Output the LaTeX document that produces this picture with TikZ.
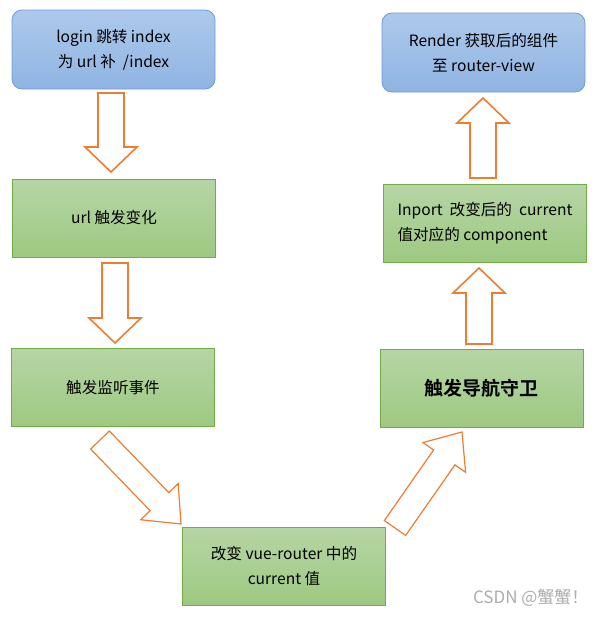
\documentclass[tikz,border=0pt]{standalone}
\usepackage{fontspec}
\setmainfont{Noto Sans CJK SC}[BoldFont={Noto Sans CJK SC Bold}]
\usetikzlibrary{calc}

\definecolor{azulTopo}{RGB}{174,201,235}
\definecolor{azulBase}{RGB}{143,180,227}
\definecolor{azulBorda}{RGB}{109,155,212}
\definecolor{verdeTopo}{RGB}{182,213,165}
\definecolor{verdeBase}{RGB}{158,201,129}
\definecolor{verdeBorda}{RGB}{112,173,71}
\definecolor{laranja}{RGB}{237,125,49}

% hollow block arrow from #2 to #3, head length #4
\newcommand{\blockarrow}[4][]{%
  \coordinate (hb) at ($(#3)!#4!(#2)$);
  \draw[flecha,#1] ($(#2)!13pt!90:(#3)$) -- ($(hb)!13pt!-90:(#2)$) -- ($(hb)!26pt!-90:(#2)$)
    -- (#3) -- ($(hb)!26pt!90:(#2)$) -- ($(hb)!13pt!90:(#2)$) -- ($(#2)!13pt!-90:(#3)$) -- cycle;}

\begin{document}
\begin{tikzpicture}[
        x=1pt, y=-1pt,
        font=\fontsize{15.6}{25}\selectfont,
        inicio/.style={rectangle, rounded corners=10pt, draw=azulBorda, line width=0.8pt,
            top color=azulTopo, bottom color=azulBase,
            minimum width=203pt, minimum height=79pt, align=center, inner sep=2pt},
        etapa/.style={rectangle, draw=verdeBorda, line width=0.8pt,
            top color=verdeTopo, bottom color=verdeBase,
            minimum width=203pt, minimum height=78pt, align=center, inner sep=2pt},
        flecha/.style={draw=laranja, fill=white, line width=1.6pt, line join=miter}
    ]
    \useasboundingbox (0,0) rectangle (603,619);

    % --- COLUNA ESQUERDA ---
    \node[inicio] (login) at (113.5,49.5) {login 跳转 index\\为 url 补\ \ /index};
    \node[etapa] (urlmuda) at (114,218) {url 触发变化};
    \node[etapa] (escuta) at (113,387.5) {触发监听事件};

    % --- BASE ---
    \node[etapa] (current) at (284,566) {改变 vue-router 中的\\current 值};

    % --- COLUNA DIREITA ---
    \node[etapa, font=\fontsize{19}{25}\selectfont\bfseries] (guarda) at (481.5,388) {触发导航守卫};
    \node[etapa, align=left] (importa) at (485,223) {Inport\ \ 改变后的\ \ current\\值对应的 component};
    \node[inicio] (render) at (483.5,52.5) {Render 获取后的组件\\至 router-view};

    \node[text=gray!65, font=\fontsize{17}{18}\selectfont, anchor=east] (marca) at (592,598) {CSDN @蟹蟹！};

    % --- SETAS ---
    \coordinate (s1a) at (111,93);   \coordinate (s1b) at (111,172);
    \coordinate (s2a) at (115,263);  \coordinate (s2b) at (115,343);
    \coordinate (s3a) at (100,440);  \coordinate (s3b) at (181,524);
    \coordinate (s4a) at (395,528);  \coordinate (s4b) at (462,432);
    \coordinate (s5a) at (479,344);  \coordinate (s5b) at (479,268);
    \coordinate (s6a) at (483,178);  \coordinate (s6b) at (483,98);

    \blockarrow{s1a}{s1b}{25pt}
    \blockarrow{s2a}{s2b}{25pt}
    \blockarrow[line width=1.2pt]{s3a}{s3b}{31pt}
    \blockarrow[line width=1.2pt]{s4a}{s4b}{31pt}
    \blockarrow{s5a}{s5b}{25pt}
    \blockarrow{s6a}{s6b}{25pt}

\end{tikzpicture}
\end{document}
